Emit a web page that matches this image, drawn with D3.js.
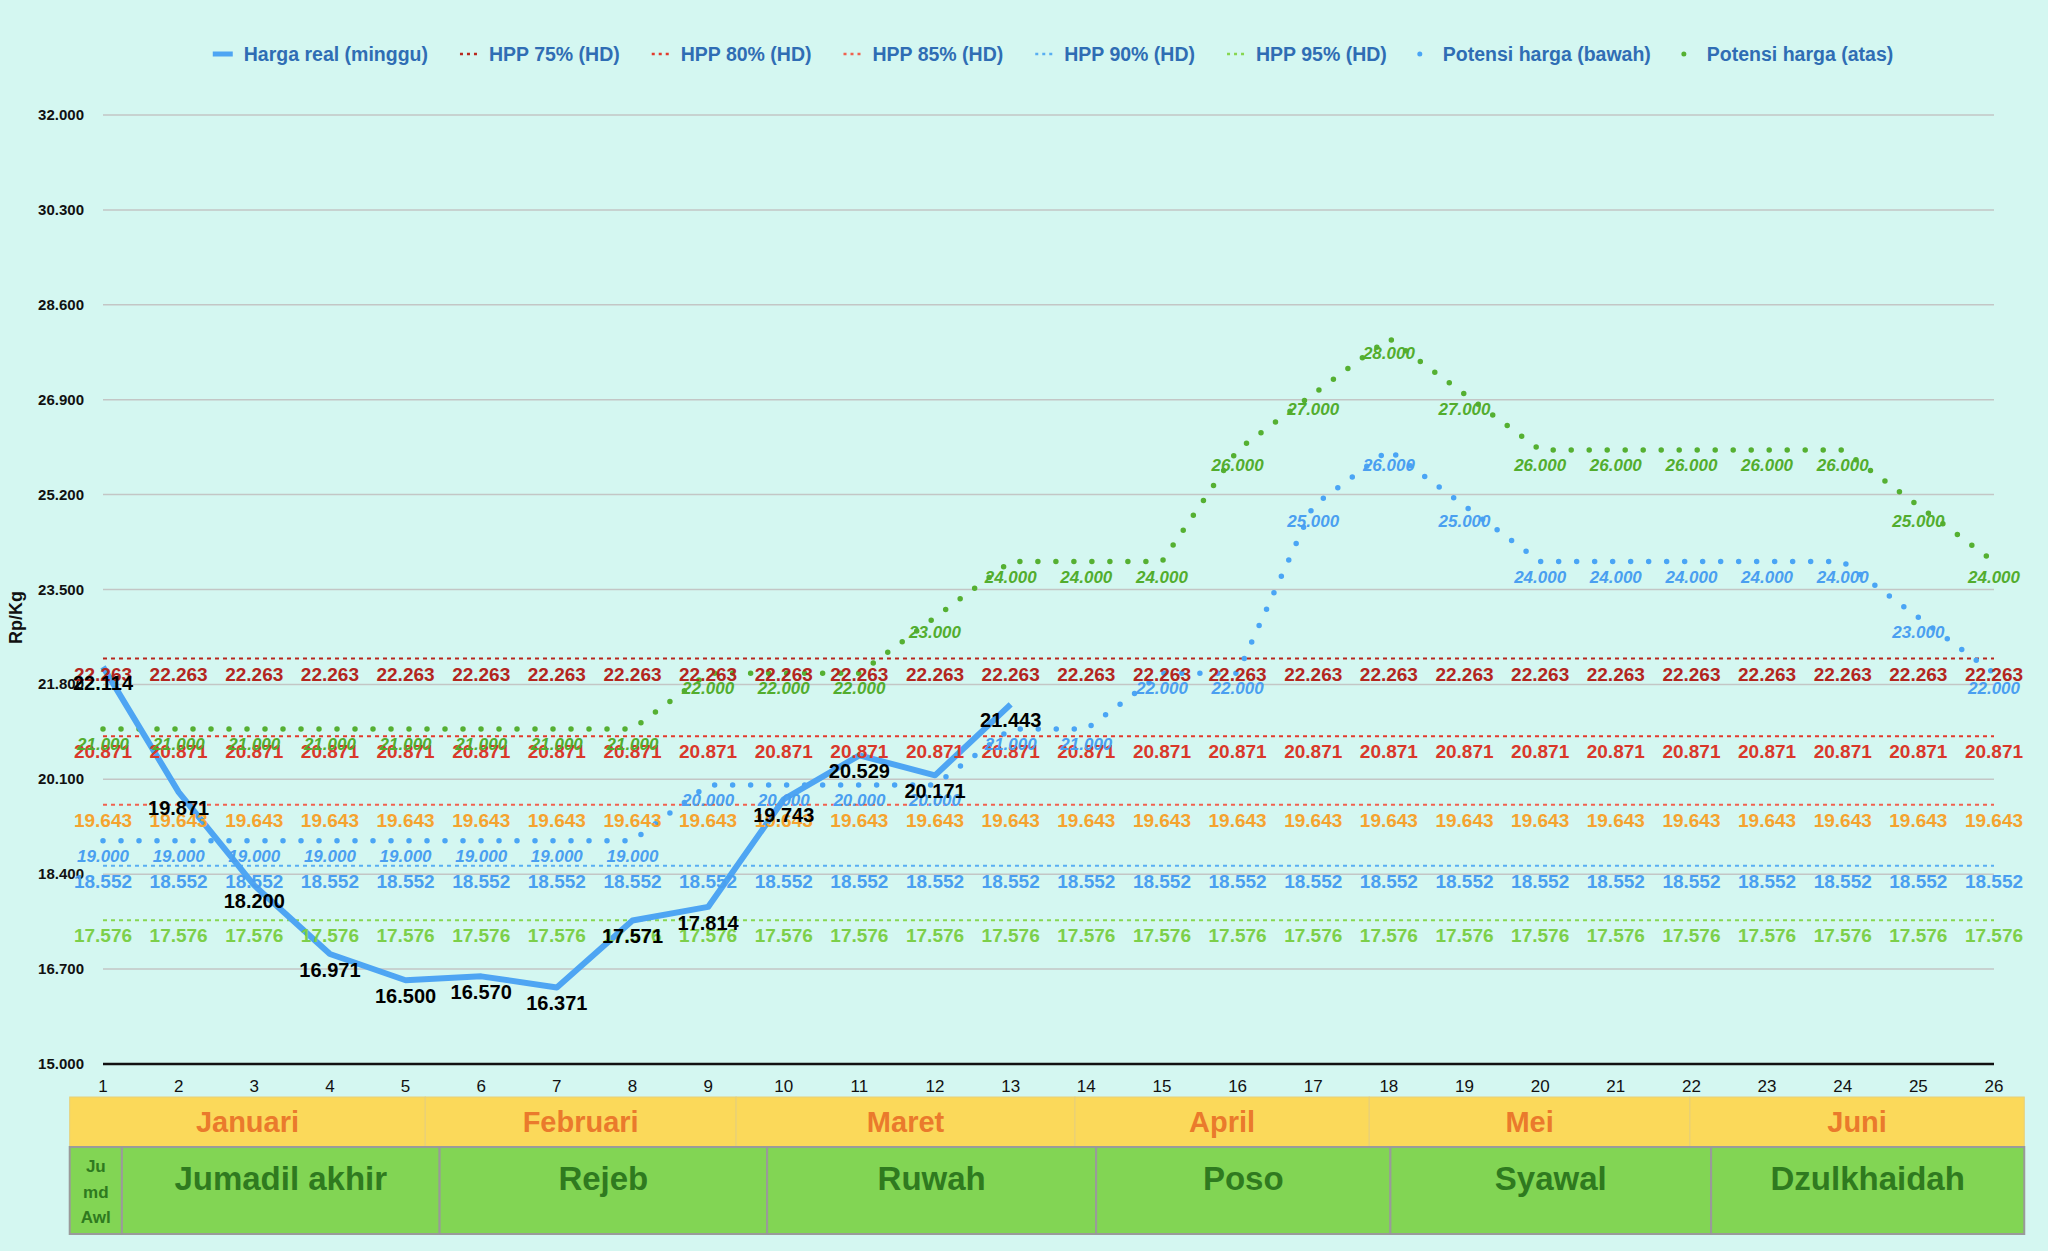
<!DOCTYPE html>
<html>
<head>
<meta charset="utf-8">
<script src="https://cdn.jsdelivr.net/npm/d3@7"></script>
<style>
  html, body { margin: 0; padding: 0; background: #d4f7f1; }
  svg { display: block; font-family: "Liberation Sans", Arial, sans-serif; }
</style>
</head>
<body>
<div id="chart"></div>
<script>
// ── data ────────────────────────────────────────────────────────────────
const weeks = d3.range(1, 27);

const hargaReal = [22114, 19871, 18200, 16971, 16500, 16570, 16371, 17571, 17814,
                   19743, 20529, 20171, 21443];

const potensiBawah = [19000, 19000, 19000, 19000, 19000, 19000, 19000, 19000,
                      20000, 20000, 20000, 20000, 21000, 21000, 22000, 22000,
                      25000, 26000, 25000, 24000, 24000, 24000, 24000, 24000,
                      23000, 22000];

const potensiAtas = [21000, 21000, 21000, 21000, 21000, 21000, 21000, 21000,
                     22000, 22000, 22000, 23000, 24000, 24000, 24000, 26000,
                     27000, 28000, 27000, 26000, 26000, 26000, 26000, 26000,
                     25000, 24000];

const hppNames  = ["HPP 75% (HD)", "HPP 80% (HD)", "HPP 85% (HD)", "HPP 90% (HD)", "HPP 95% (HD)"];
const hppValues = [22263, 20871, 19643, 18552, 17576];
const hppLineColors  = ["#b8281e", "#e23a2c", "#f0624f", "#58aef2", "#86d651"];
const hppLabelColors = ["#b3261e", "#d9382a", "#f5a32f", "#4a9ff0", "#7ccf4a"];

const yTicks = [15000, 16700, 18400, 20100, 21800, 23500, 25200, 26900, 28600, 30300, 32000];

// band edges are in week units
const months     = ["Januari", "Februari", "Maret", "April", "Mei", "Juni"];
const monthEdges = [0.56, 5.26, 9.37, 13.85, 17.74, 21.98, 26.4];
const jawaMonths = [["Ju", "md", "Awl"], ["Jumadil akhir"], ["Rejeb"], ["Ruwah"],
                    ["Poso"], ["Syawal"], ["Dzulkhaidah"]];
const jawaEdges  = [0.56, 1.25, 5.45, 9.78, 14.13, 18.02, 22.26, 26.4];

// ── setup ───────────────────────────────────────────────────────────────
const W = 2048, H = 1251;
const blue       = "#4ea5f3";
const atasColor  = "#55b032";
const bawahColor = "#4aa5f5";

const loc = d3.formatLocale({ decimal: ",", thousands: ".", grouping: [3], currency: ["Rp", ""] });
const fmt = loc.format(",d");

const svg = d3.select("#chart").append("svg")
  .attr("width", W)
  .attr("height", H);

svg.append("rect").attr("width", W).attr("height", H).attr("fill", "#d4f7f1");

const x = d3.scaleLinear().domain([1, 26]).range([103, 1994]);
const y = d3.scaleLinear().domain([15000, 32000]).range([1064, 115]);

// grid
svg.append("g")
  .selectAll("line")
  .data(yTicks.slice(1))
  .join("line")
  .attr("x1", x(1)).attr("x2", x(26))
  .attr("y1", d => y(d)).attr("y2", d => y(d))
  .attr("stroke", "#c3c6c5")
  .attr("stroke-width", 1.5);

// y axis labels
svg.append("g")
  .selectAll("text")
  .data(yTicks)
  .join("text")
  .attr("x", 84)
  .attr("y", d => y(d) + 5)
  .attr("text-anchor", "end")
  .attr("font-size", 15)
  .attr("font-weight", "bold")
  .attr("fill", "#111")
  .text(d => fmt(d));

svg.append("text")
  .attr("transform", `translate(22,${y(23000)}) rotate(-90)`)
  .attr("text-anchor", "middle")
  .attr("font-size", 18)
  .attr("font-weight", "bold")
  .attr("fill", "#111")
  .text("Rp/Kg");

// x axis
svg.append("line")
  .attr("x1", x(1)).attr("x2", x(26))
  .attr("y1", y(15000)).attr("y2", y(15000))
  .attr("stroke", "#111")
  .attr("stroke-width", 2.5);

svg.append("g")
  .selectAll("text")
  .data(weeks)
  .join("text")
  .attr("x", d => x(d))
  .attr("y", 1092)
  .attr("text-anchor", "middle")
  .attr("font-size", 17)
  .attr("fill", "#111")
  .text(d => d);

// ── HPP reference lines ────────────────────────────────────────────────
hppValues.forEach((v, i) => {
  svg.append("line")
    .attr("x1", x(1)).attr("x2", x(26))
    .attr("y1", y(v)).attr("y2", y(v))
    .attr("stroke", hppLineColors[i])
    .attr("stroke-width", 2)
    .attr("stroke-dasharray", "4 4");
});

// ── potensi (dotted) ───────────────────────────────────────────────────
const line = d3.line().x((d, i) => x(i + 1)).y(d => y(d));

[[potensiBawah, bawahColor], [potensiAtas, atasColor]].forEach(([arr, c]) => {
  svg.append("path")
    .attr("d", line(arr))
    .attr("fill", "none")
    .attr("stroke", c)
    .attr("stroke-width", 5.5)
    .attr("stroke-linecap", "round")
    .attr("stroke-dasharray", "0 18");
});

// ── harga real ─────────────────────────────────────────────────────────
svg.append("path")
  .attr("d", line(hargaReal))
  .attr("fill", "none")
  .attr("stroke", blue)
  .attr("stroke-width", 6)
  .attr("stroke-linejoin", "round");

// ── labels ─────────────────────────────────────────────────────────────
hppValues.forEach((v, i) => {
  svg.append("g")
    .selectAll("text")
    .data(weeks)
    .join("text")
    .attr("x", d => x(d))
    .attr("y", y(v) + 22)
    .attr("text-anchor", "middle")
    .attr("font-size", 19)
    .attr("font-weight", "bold")
    .attr("fill", hppLabelColors[i])
    .text(fmt(v));
});

[[potensiBawah, "#4a9ff0"], [potensiAtas, "#52ad2e"]].forEach(([arr, c]) => {
  svg.append("g")
    .selectAll("text")
    .data(arr)
    .join("text")
    .attr("x", (d, i) => x(i + 1))
    .attr("y", d => y(d) + 21)
    .attr("text-anchor", "middle")
    .attr("font-size", 17)
    .attr("font-weight", "bold")
    .attr("font-style", "italic")
    .attr("fill", c)
    .text(d => fmt(d));
});

svg.append("g")
  .selectAll("text")
  .data(hargaReal)
  .join("text")
  .attr("x", (d, i) => x(i + 1))
  .attr("y", d => y(d) + 23)
  .attr("text-anchor", "middle")
  .attr("font-size", 20)
  .attr("font-weight", "bold")
  .attr("fill", "#000")
  .text(d => fmt(d));

// ── month bands ────────────────────────────────────────────────────────
const bandTop = 1097, bandMid = 1147, bandBot = 1234;

const mg = svg.append("g");
mg.selectAll("rect")
  .data(months)
  .join("rect")
  .attr("x", (d, i) => x(monthEdges[i]))
  .attr("y", bandTop)
  .attr("width", (d, i) => x(monthEdges[i + 1]) - x(monthEdges[i]))
  .attr("height", bandMid - bandTop)
  .attr("fill", "#fbd95a")
  .attr("stroke", "#e6cf7a")
  .attr("stroke-width", 1);
mg.selectAll("text")
  .data(months)
  .join("text")
  .attr("x", (d, i) => (x(monthEdges[i]) + x(monthEdges[i + 1])) / 2)
  .attr("y", 1132)
  .attr("text-anchor", "middle")
  .attr("font-size", 29)
  .attr("font-weight", "bold")
  .attr("fill", "#ea7a2c")
  .text(d => d);

const jg = svg.append("g");
jg.selectAll("rect")
  .data(jawaMonths)
  .join("rect")
  .attr("x", (d, i) => x(jawaEdges[i]))
  .attr("y", bandMid)
  .attr("width", (d, i) => x(jawaEdges[i + 1]) - x(jawaEdges[i]))
  .attr("height", bandBot - bandMid)
  .attr("fill", "#82d554")
  .attr("stroke", "#9a9a9a")
  .attr("stroke-width", 2);

jg.selectAll("text")
  .data(jawaMonths)
  .join("text")
  .attr("text-anchor", "middle")
  .attr("font-weight", "bold")
  .attr("fill", "#2f7a1f")
  .attr("font-size", d => d.length > 1 ? 17 : 33)
  .each(function (d, i) {
    const cx = (x(jawaEdges[i]) + x(jawaEdges[i + 1])) / 2;
    const t = d3.select(this);
    if (d.length > 1) {
      d.forEach((s, k) => {
        t.append("tspan").attr("x", cx).attr("y", 1172 + k * 25.5).text(s);
      });
    } else {
      t.attr("x", cx).attr("y", 1190).text(d[0]);
    }
  });

// ── legend ─────────────────────────────────────────────────────────────
const legendItems = [{ name: "Harga real (minggu)", type: "line", color: blue }]
  .concat(hppNames.map((n, i) => ({ name: n, type: "dash", color: hppLineColors[i] })))
  .concat([
    { name: "Potensi harga (bawah)", type: "dot", color: bawahColor },
    { name: "Potensi harga (atas)",  type: "dot", color: atasColor }
  ]);

const lg = svg.append("g");
const legendY = 54;
let cursor = 0;
const items = legendItems.map(it => {
  const g = lg.append("g");
  const symW = it.type === "dot" ? 6 : 20;
  if (it.type === "line") {
    g.append("line").attr("x1", 0).attr("x2", 20).attr("y1", 0).attr("y2", 0)
      .attr("stroke", it.color).attr("stroke-width", 5);
  } else if (it.type === "dash") {
    g.append("line").attr("x1", 2).attr("x2", 20).attr("y1", 0).attr("y2", 0)
      .attr("stroke", it.color).attr("stroke-width", 2.5).attr("stroke-dasharray", "3 4");
  } else {
    g.append("circle").attr("cx", 3).attr("cy", 0).attr("r", 2.5).attr("fill", it.color);
  }
  const t = g.append("text")
    .attr("x", symW + (it.type === "dot" ? 20 : 11))
    .attr("y", 6.5)
    .attr("font-size", 19.5)
    .attr("font-weight", "bold")
    .attr("fill", "#2f6db4")
    .text(it.name);
  const w = symW + (it.type === "dot" ? 20 : 11) + t.node().getComputedTextLength();
  const pos = cursor;
  cursor += w + 30;
  return { g, pos };
});
const total = cursor - 30;
const startX = 1053 - total / 2;
items.forEach(({ g, pos }) => g.attr("transform", `translate(${startX + pos},${legendY})`));
</script>
</body>
</html>
